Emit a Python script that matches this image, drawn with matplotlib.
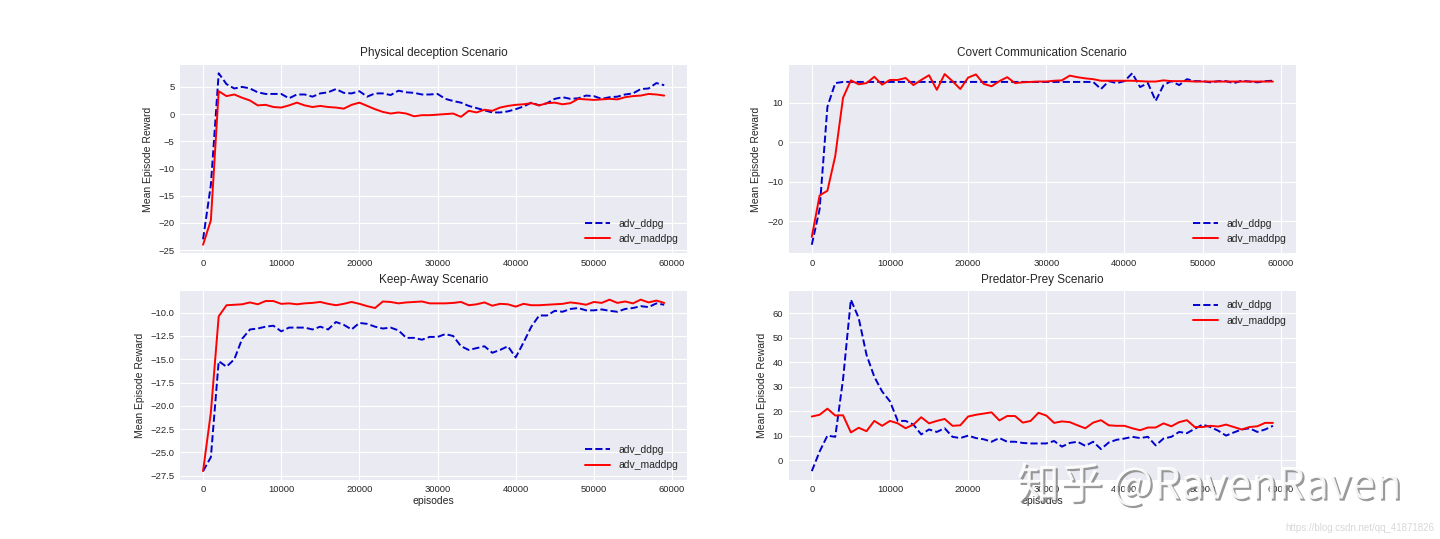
import numpy as np
import matplotlib
matplotlib.use("Agg")
import matplotlib.pyplot as plt
import matplotlib.patheffects as pe

episodes = np.arange(0, 60000, 1000)

# Physical deception
pd_ddpg = [-23, -13, 7.5, 5.5, 4.7, 5.0, 4.7, 4.0, 3.7, 3.7,
           3.7, 2.9, 3.6, 3.6, 3.2, 3.8, 4.0, 4.6, 3.9, 3.8,
           4.2, 3.2, 3.8, 3.8, 3.5, 4.3, 4.0, 3.9, 3.6, 3.6,
           3.7, 2.8, 2.4, 2.1, 1.5, 1.1, 0.7, 0.3, 0.3, 0.5,
           0.9, 1.4, 2.1, 1.6, 2.0, 2.8, 3.1, 2.8, 2.9, 3.4,
           3.3, 2.8, 3.1, 3.2, 3.6, 3.8, 4.6, 4.7, 5.7, 5.3]
pd_maddpg = [-24, -19.5, 4.2, 3.3, 3.6, 3.0, 2.5, 1.6, 1.7, 1.3,
             1.2, 1.6, 2.1, 1.6, 1.3, 1.5, 1.3, 1.2, 1.0, 1.7,
             2.1, 1.5, 0.9, 0.4, 0.1, 0.3, 0.1, -0.4, -0.2, -0.2,
             -0.1, 0.0, 0.1, -0.5, 0.6, 0.3, 0.8, 0.6, 1.2, 1.5,
             1.7, 1.8, 2.0, 1.6, 2.0, 2.1, 1.8, 2.0, 2.8, 2.7,
             2.6, 2.7, 2.8, 2.7, 3.1, 3.3, 3.4, 3.7, 3.6, 3.4]

# Covert communication
cc_ddpg = [-26, -17, 9, 15, 15.3, 15.3, 15.3, 15.3, 15.3, 15.3,
           15.3, 15.3, 15.3, 15.3, 15.3, 15.3, 15.3, 15.3, 15.3, 15.3,
           15.3, 15.3, 15.3, 15.3, 15.3, 15.3, 15.3, 15.3, 15.3, 15.3,
           15.3, 15.3, 15.3, 15.3, 15.3, 15.3, 15.3, 13.5, 15.5, 15.0,
           15.5, 17.5, 14.0, 15.0, 10.5, 14.5, 15.5, 14.5, 16.0, 15.5,
           15.5, 15.2, 15.5, 15.5, 15.0, 15.6, 15.4, 15.2, 15.5, 15.6]
cc_maddpg = [-24, -13.5, -12.3, -3.5, 11.3, 15.7, 14.7, 15.0, 16.6, 14.6,
             15.8, 15.8, 16.3, 14.5, 15.8, 17.0, 13.3, 17.3, 15.5, 13.5,
             16.4, 17.2, 14.8, 14.2, 15.5, 16.5, 15.0, 15.2, 15.3, 15.4,
             15.4, 15.6, 15.7, 16.9, 16.5, 16.2, 16.0, 15.6, 15.6, 15.6,
             15.6, 15.6, 15.5, 15.4, 15.4, 15.7, 15.5, 15.5, 15.5, 15.4,
             15.4, 15.4, 15.4, 15.4, 15.4, 15.4, 15.4, 15.4, 15.4, 15.4]

# Keep-away
ka_ddpg = [-27, -25.5, -15.2, -15.8, -15.0, -12.8, -11.8, -11.7, -11.5, -11.4,
           -12.0, -11.6, -11.6, -11.6, -11.8, -11.5, -11.8, -11.0, -11.3, -11.8,
           -11.1, -11.2, -11.5, -11.7, -11.6, -11.9, -12.7, -12.7, -12.9, -12.6,
           -12.6, -12.3, -12.5, -13.6, -14.0, -13.8, -13.6, -14.3, -14.0, -13.6,
           -14.8, -13.2, -11.5, -10.3, -10.3, -9.8, -9.9, -9.6, -9.5, -9.75,
           -9.75, -9.65, -9.8, -9.9, -9.6, -9.5, -9.3, -9.4, -9.0, -9.15]
ka_maddpg = [-27, -20.7, -10.4, -9.2, -9.15, -9.1, -8.9, -9.1, -8.75, -8.75,
             -9.05, -9.0, -9.1, -9.0, -8.95, -8.85, -9.05, -9.2, -9.05, -8.85,
             -9.05, -9.3, -9.5, -8.8, -8.85, -9.0, -8.9, -8.85, -8.8, -9.0,
             -9.0, -9.0, -8.95, -8.85, -9.2, -9.1, -8.9, -9.25, -9.05, -9.1,
             -9.35, -9.05, -9.2, -9.2, -9.15, -9.1, -9.05, -8.9, -9.0, -9.15,
             -8.85, -8.95, -8.6, -8.95, -8.8, -9.0, -8.6, -8.9, -8.7, -8.95]

# Predator-prey
pp_ddpg = [-4.5, 3.5, 10, 9.5, 33, 65.5, 58, 43, 34, 28,
           24, 16, 16, 14.5, 10.5, 12.5, 11.5, 13, 9.5, 9,
           10, 9, 8.5, 7.5, 9, 7.5, 7.5, 7, 6.8, 6.8,
           6.8, 7.8, 5.5, 7, 7.5, 5.8, 7.5, 4.5, 7.2, 8.3,
           8.8, 9.5, 9, 9.5, 6, 8.8, 9.5, 11.5, 11, 12.8,
           14.5, 13.5, 12, 10, 11.3, 12.5, 13, 11.5, 12.5, 14]
pp_maddpg = [17.8, 18.5, 21, 18.2, 18.3, 11.3, 13.2, 11.8, 16, 14,
             16, 15, 13, 14.5, 17.5, 15, 16, 16.8, 14, 14.2,
             17.8, 18.5, 19, 19.5, 16.2, 18, 18, 15.3, 16, 19.3,
             18.2, 15.2, 15.8, 15.5, 14.2, 13, 15.3, 16.3, 14.2, 14,
             14, 13, 12.2, 13.3, 13.3, 15, 13.8, 15.5, 16.3, 13.5,
             13.5, 14, 13.7, 14.5, 13.5, 12.5, 13.5, 13.8, 15.2, 15.2]

plt.style.use("seaborn-v0_8-darkgrid")
plt.rcParams["font.family"] = ["Liberation Sans", "DejaVu Sans"]

fig, axes = plt.subplots(2, 2, figsize=(14.4, 5.39), dpi=100)

panels = [
    (axes[0, 0], "Physical deception Scenario", pd_ddpg, pd_maddpg, "lower right"),
    (axes[0, 1], "Covert Communication Scenario", cc_ddpg, cc_maddpg, "lower right"),
    (axes[1, 0], "Keep-Away Scenario", ka_ddpg, ka_maddpg, "lower right"),
    (axes[1, 1], "Predator-Prey Scenario", pp_ddpg, pp_maddpg, "upper right"),
]

for ax, title, ddpg, maddpg, loc in panels:
    ax.plot(episodes, ddpg, "--", color="mediumblue", lw=1.4, label="adv_ddpg")
    ax.plot(episodes, maddpg, "-", color="red", lw=1.4, label="adv_maddpg")
    ax.set_title(title, fontsize=8.5)
    ax.set_ylabel("Mean Episode Reward", fontsize=7.5)
    ax.tick_params(labelsize=6.8, pad=4)
    ax.legend(loc=loc, fontsize=7.5, handlelength=2.4)

axes[1, 0].set_xlabel("episodes", fontsize=7.5, labelpad=1)
axes[1, 1].set_xlabel("episodes", fontsize=7.5, labelpad=1)

# watermarks
fig.text(0.706, 0.075, "知乎 @RavenRaven", fontsize=31, color="white",
         family=["Noto Sans CJK SC", "DejaVu Sans"], alpha=0.9,
         path_effects=[pe.withSimplePatchShadow(offset=(1.5, -1.5), shadow_rgbFace="gray", alpha=0.8)])
fig.text(0.996, 0.015, "https://blog.csdn.net/qq_41871826", fontsize=7,
         color="#d8d8d8", ha="right")

plt.savefig("out.png")
